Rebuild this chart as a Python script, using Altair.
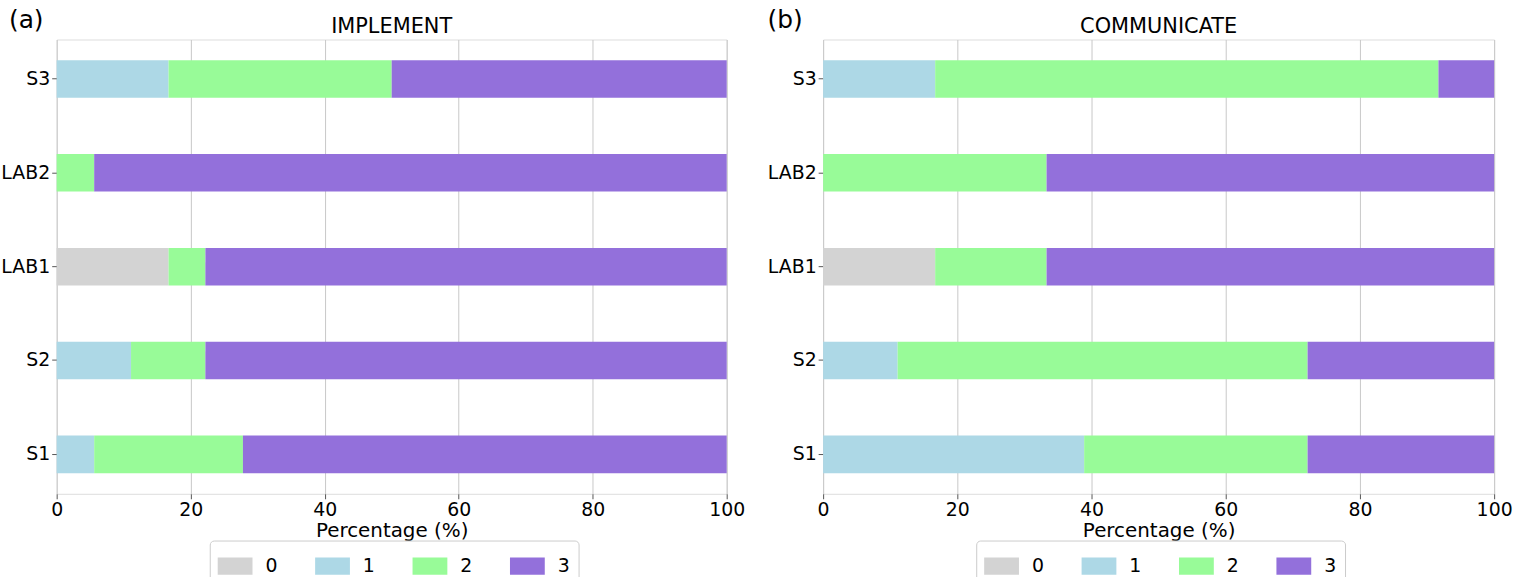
import altair as alt
import pandas as pd

categories = ["S1", "S2", "LAB1", "LAB2", "S3"]
levels = ["0", "1", "2", "3"]
level_colors = ["#d3d3d3", "#add8e6", "#98fb98", "#9370db"]

# IMPLEMENT percentages per level (order of categories above)
impl_0 = [0.0, 0.0, 16.7, 0.0, 0.0]
impl_1 = [5.6, 11.1, 0.0, 0.0, 16.7]
impl_2 = [22.2, 11.1, 5.5, 5.6, 33.3]
impl_3 = [72.2, 77.8, 77.8, 94.4, 50.0]

# COMMUNICATE percentages per level
comm_0 = [0.0, 0.0, 16.7, 0.0, 0.0]
comm_1 = [38.9, 11.1, 0.0, 0.0, 16.7]
comm_2 = [33.3, 61.1, 16.6, 33.3, 75.0]
comm_3 = [27.8, 27.8, 66.7, 66.7, 8.3]

panel_titles = ["IMPLEMENT", "COMMUNICATE"]
panel_tags = ["(a)", "(b)"]

FONT = "DejaVu Sans"
H = 457


def make_df(series):
    rows = []
    for lev, vals in zip(levels, series):
        for cat, v in zip(categories, vals):
            rows.append({"cat": cat, "level": lev, "lev_num": int(lev), "value": v})
    return pd.DataFrame(rows)


rect_path = "M-1,-0.5H1V0.5H-1Z"


def panel(series, title, tag, tag_x, W):
    df = make_df(series)
    bars = alt.Chart(df).mark_bar().encode(
        x=alt.X(
            "value:Q",
            stack="zero",
            scale=alt.Scale(domain=[0, 100], nice=False),
            axis=alt.Axis(
                values=[0, 20, 40, 60, 80, 100],
                title="Percentage (%)",
                grid=True,
                gridColor="#c8c8c8",
                gridWidth=1,
                domain=False,
                tickColor="#555555",
                tickSize=5,
                labelFontSize=19,
                labelFont=FONT,
                labelColor="#000000",
                titleFontSize=20,
                titleFont=FONT,
                titleFontWeight="normal",
                titleColor="#000000",
                titlePadding=1,
                labelPadding=2,
                labelFlush=False,
            ),
        ),
        y=alt.Y(
            "cat:N",
            sort=list(reversed(categories)),
            scale=alt.Scale(paddingInner=0.6, paddingOuter=0.22),
            axis=alt.Axis(
                title=None,
                grid=False,
                domain=False,
                tickColor="#555555",
                tickSize=5,
                labelFontSize=19,
                labelFont=FONT,
                labelColor="#000000",
                labelPadding=2,
            ),
        ),
        color=alt.Color(
            "level:N",
            scale=alt.Scale(domain=levels, range=level_colors),
            legend=alt.Legend(
                title=None,
                orient="none",
                legendX=154,
                legendY=504,
                direction="horizontal",
                columns=4,
                symbolType=rect_path,
                symbolSize=1225,
                symbolStrokeWidth=0,
                symbolOpacity=1,
                labelFontSize=19,
                labelFont=FONT,
                labelColor="#000000",
                labelOffset=13,
                columnPadding=37,
                padding=8,
                strokeColor="#cccccc",
                fillColor="#ffffff",
                cornerRadius=4,
            ),
        ),
        order=alt.Order("lev_num:Q", sort="ascending"),
    )
    tag_layer = alt.Chart(pd.DataFrame({"t": [tag]})).mark_text(
        fontSize=25, font=FONT, align="left", baseline="middle", color="#000000"
    ).encode(text="t:N", x=alt.value(tag_x), y=alt.value(-20))
    title_layer = alt.Chart(pd.DataFrame({"t": [title]})).mark_text(
        fontSize=21, font=FONT, align="center", baseline="alphabetic", color="#000000"
    ).encode(text="t:N", x=alt.value(W / 2), y=alt.value(-7))
    return alt.layer(bars, tag_layer, title_layer).properties(width=W, height=H)


left = panel([impl_0, impl_1, impl_2, impl_3], panel_titles[0], panel_tags[0], -48, 674)
right = panel([comm_0, comm_1, comm_2, comm_3], panel_titles[1], panel_tags[1], -56, 675)

chart = (
    alt.hconcat(left, right, spacing=21)
    .resolve_scale(color="independent")
    .properties(padding={"left": 0, "top": 5, "right": 5, "bottom": 0})
    .configure_view(stroke="#555555", strokeWidth=1)
    .configure(background="#ffffff")
)

chart.save("out.html", embed_options={"renderer": "svg", "actions": False})
